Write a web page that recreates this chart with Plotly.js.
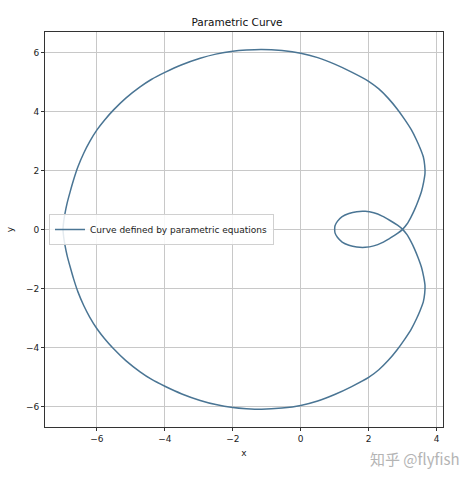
<!DOCTYPE html>
<html>
<head>
<meta charset="utf-8">
<script src="https://cdn.plot.ly/plotly-3.0.1.min.js"></script>
<style>html,body{margin:0;padding:0;background:#fff;}#chart{width:474px;height:479px;}</style>
</head>
<body>
<div id="chart"></div>
<script>
// Points, traversed along the curve
const curveX = [
  1.00, 1.01, 1.08, 1.22, 1.42, 1.65, 1.90, 2.15, 2.40, 2.63, 2.85, 3.00,
  3.13, 3.24, 3.35, 3.46, 3.56, 3.62, 3.66, 3.65, 3.61, 3.52, 3.41, 3.26, 3.07, 2.84, 2.58, 2.30, 2.00,
  1.50, 1.00, 0.50, 0.00, -0.55, -1.15, -1.60, -2.00, -2.50, -2.96, -3.50, -4.00, -4.40, -4.73,
  -5.15, -5.51, -5.78, -6.00, -6.21, -6.39, -6.56, -6.69, -6.79, -6.88, -6.94, -6.98, -7.00,
  -6.98, -6.94, -6.88, -6.79, -6.69, -6.56, -6.39, -6.21, -6.00, -5.78, -5.51, -5.15,
  -4.73, -4.40, -4.00, -3.50, -2.96, -2.50, -2.00, -1.60, -1.15, -0.55, 0.00, 0.50, 1.00, 1.50,
  2.00, 2.30, 2.58, 2.84, 3.07, 3.26, 3.41, 3.52, 3.61, 3.65, 3.66, 3.62, 3.56, 3.46, 3.35, 3.24, 3.13, 3.00,
  2.85, 2.63, 2.40, 2.15, 1.90, 1.65, 1.42, 1.22, 1.08, 1.01, 1.00];
const curveY = [
  0.00, -0.12, -0.27, -0.43, -0.54, -0.60, -0.61, -0.56, -0.45, -0.30, -0.14, 0.00,
  0.18, 0.40, 0.66, 0.97, 1.30, 1.60, 1.90, 2.18, 2.46, 2.74, 3.03, 3.37, 3.71, 4.08, 4.44, 4.76, 5.02,
  5.33, 5.60, 5.82, 5.97, 6.06, 6.10, 6.08, 6.04, 5.94, 5.80, 5.58, 5.32, 5.08, 4.83,
  4.45, 4.05, 3.70, 3.37, 2.98, 2.58, 2.12, 1.67, 1.27, 0.88, 0.55, 0.26, 0.00,
  -0.26, -0.55, -0.88, -1.27, -1.67, -2.12, -2.58, -2.98, -3.37, -3.70, -4.05, -4.45,
  -4.83, -5.08, -5.32, -5.58, -5.80, -5.94, -6.04, -6.08, -6.10, -6.06, -5.97, -5.82, -5.60, -5.33,
  -5.02, -4.76, -4.44, -4.08, -3.71, -3.37, -3.03, -2.74, -2.46, -2.18, -1.90, -1.60, -1.30, -0.97, -0.66, -0.40, -0.18, 0.00,
  0.14, 0.30, 0.45, 0.56, 0.61, 0.60, 0.54, 0.43, 0.27, 0.12, 0.00];
const seriesName = "Curve defined by parametric equations";
const xTicks = [-6, -4, -2, 0, 2, 4];
const yTicks = [-6, -4, -2, 0, 2, 4, 6];

const font = "DejaVu Sans, sans-serif";
const trace = {
  x: curveX, y: curveY, type: "scatter", mode: "lines", name: seriesName,
  line: {color: "#4a7594", width: 1.5, shape: "spline", smoothing: 0.7}
};
const axisCommon = {
  showline: true, mirror: true, linecolor: "#333", linewidth: 1,
  ticks: "outside", ticklen: 3, tickcolor: "#333", tickwidth: 1,
  showgrid: true, gridcolor: "#c8c8c8", gridwidth: 1,
  zeroline: false, tickfont: {family: font, size: 9, color: "#222"},
  tickmode: "array"
};
const layout = {
  width: 474, height: 479,
  margin: {l: 45, r: 31, t: 32, b: 52},
  paper_bgcolor: "#fff", plot_bgcolor: "#fff",
  title: {text: "Parametric Curve", font: {family: font, size: 10.5, color: "#111"}, x: 0.5, xanchor: "center", y: 0.954, yanchor: "middle"},
  xaxis: Object.assign({}, axisCommon, {range: [-7.53, 4.19], tickvals: xTicks, title: {text: "x", font: {family: font, size: 9, color: "#222"}, standoff: 6}}),
  yaxis: Object.assign({}, axisCommon, {range: [-6.70, 6.69], tickvals: yTicks, title: {text: "y", font: {family: font, size: 9, color: "#222"}, standoff: 10}}),
  showlegend: true,
  legend: {x: 0.01, y: 0.5, xanchor: "left", yanchor: "middle", bgcolor: "rgba(255,255,255,0.85)", bordercolor: "#d0d0d0", borderwidth: 1, font: {family: font, size: 9, color: "#222"}, itemwidth: 30},
  annotations: [{
    text: "知乎 @flyfish", xref: "paper", yref: "paper", x: 1.048, y: -0.081, xanchor: "right", yanchor: "middle",
    showarrow: false, font: {family: "Noto Sans CJK SC, sans-serif", size: 15, color: "#b4b4b4"}
  }]
};
Plotly.newPlot("chart", [trace], layout, {staticPlot: true, displayModeBar: false});
</script>
</body>
</html>
